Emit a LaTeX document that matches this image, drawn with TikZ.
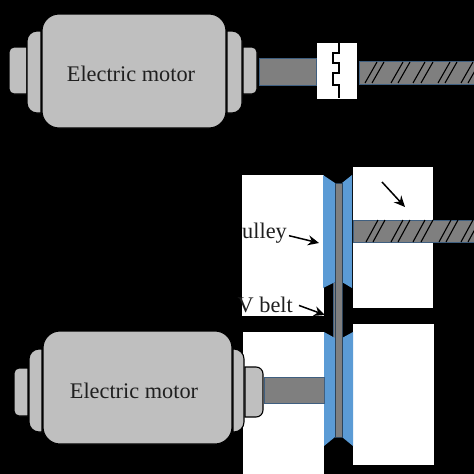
\documentclass[tikz,border=0pt]{standalone}
\usepackage{fontspec}
\setmainfont{Liberation Serif}
\usetikzlibrary{arrows.meta}
\definecolor{motorgray}{HTML}{BFBFBF}
\definecolor{shaftgray}{HTML}{7F7F7F}
\definecolor{pulleyblue}{HTML}{5B9BD5}
\definecolor{edgeblue}{HTML}{3F5F80}
\tikzset{
  motorpart/.style={fill=motorgray,draw=black,line width=1.1pt},
  shaftpart/.style={fill=shaftgray,draw=edgeblue,line width=1pt},
  pulleypart/.style={fill=pulleyblue,draw=none},
  panel/.style={fill=white,draw=none},
  hatchline/.style={draw=black,line width=1.1pt},
  labeltext/.style={font=\fontsize{22.3}{26}\selectfont,text=black!88,inner sep=0pt},
  pointer/.style={draw=black,line width=1.5pt,-{Stealth[length=11pt,width=10pt]}}
}
\begin{document}
\begin{tikzpicture}[x=1pt,y=-1pt]
\useasboundingbox (0,0) rectangle (474,474);
\fill[black] (0,0) rectangle (474,474);
\clip (0,0) rectangle (474,474);
% panels
\path[panel] (242,175) rectangle (324,316);
\path[panel] (353,167) rectangle (433,308);
\path[panel] (243,332) rectangle (324,474);
\path[panel] (353,324) rectangle (434,465);
% top motor
\path[motorpart] (9,52) arc[start angle=180,end angle=270,radius=5] -- (27,47) -- (27,94) -- (14,94) arc[start angle=90,end angle=180,radius=5] -- cycle;
\path[motorpart] (27,41) arc[start angle=180,end angle=270,radius=10] -- (41,31) -- (41,113) -- (37,113) arc[start angle=90,end angle=180,radius=10] -- cycle;
\path[motorpart] (243,47) -- (252,47) arc[start angle=-90,end angle=0,radius=5] -- (257,89) arc[start angle=0,end angle=90,radius=5] -- (243,94) -- cycle;
\path[motorpart] (227,31) -- (232,31) arc[start angle=-90,end angle=0,radius=10] -- (242,103) arc[start angle=0,end angle=90,radius=10] -- (227,113) -- cycle;
\path[motorpart,rounded corners=17pt] (42,14) rectangle (226,128);
\node[labeltext] (motorA) at (131,74) {Electric motor};
% top shaft and coupling
\path[shaftpart] (259,58) rectangle (316,85);
\path[panel] (317,43) rectangle (357,99);
\draw[black,line width=1.2pt] (339,43) -- (339,53) -- (333,53) -- (333,63) -- (339,63) -- (339,73) -- (333,73) -- (333,85) -- (339,85) -- (339,98);
% top threaded shaft
\path[shaftpart] (359,61) rectangle (476,84);
\foreach \t in {377,384,403,410,425,433,450,457,473,480}{
  \draw[hatchline] (\t-12,83) -- (\t,62);
}
% lower threaded shaft
\path[shaftpart] (353,220) rectangle (476,242);
\foreach \t in {378,385,403,410,425,433,451,458,473,480}{
  \draw[hatchline] (\t-12,242) -- (\t,220);
}
% belt span between the pulleys
\path[fill=shaftgray,draw=edgeblue,line width=1pt] (333.5,282) rectangle (342.5,340);
% upper pulley
\path[pulleypart] (323,175) -- (335,183) -- (335,282) -- (323,288) -- cycle;
\path[pulleypart] (352,175) -- (342,183) -- (342,282) -- (352,288) -- cycle;
% lower pulley
\path[pulleypart] (324,332) -- (335,338) -- (335,437) -- (324,446) -- cycle;
\path[pulleypart] (353,332) -- (342,338) -- (342,437) -- (353,446) -- cycle;
% belt
\path[fill=shaftgray,draw=edgeblue!70!black,line width=1pt] (335,183) rectangle (342,437);
% lower motor
\path[motorpart] (14,373) arc[start angle=180,end angle=270,radius=5] -- (28,368) -- (28,416) -- (19,416) arc[start angle=90,end angle=180,radius=5] -- cycle;
\path[motorpart] (29,359) arc[start angle=180,end angle=270,radius=10] -- (42,349) -- (42,432) -- (39,432) arc[start angle=90,end angle=180,radius=10] -- cycle;
\path[motorpart] (233,349) -- (234,349) arc[start angle=-90,end angle=0,radius=10] -- (244,422) arc[start angle=0,end angle=90,radius=10] -- (233,432) -- cycle;
\path[motorpart] (245,367) -- (256,367) arc[start angle=-90,end angle=0,radius=7] -- (263,410) arc[start angle=0,end angle=90,radius=7] -- (245,417) -- cycle;
\path[motorpart,rounded corners=17pt] (43,331) rectangle (232,444);
\node[labeltext] (motorB) at (134,391) {Electric motor};
\path[shaftpart] (264,377) rectangle (324,403);
% labels
\node[labeltext,anchor=base east] (pulley) at (287,238) {ulley};
\node[labeltext,anchor=base east] (belt) at (293,312) {V belt};
\coordinate (pulleytip) at (319,243);
\coordinate (belttip) at (325,315);
\coordinate (shaftfrom) at (382,182);
\coordinate (shafttip) at (405,207);
\draw[pointer] (pulley.east)++(2,3) -- (pulleytip);
\draw[pointer] (belt.east)++(6,1) -- (belttip);
\draw[pointer] (shaftfrom) -- (shafttip);
\end{tikzpicture}
\end{document}
